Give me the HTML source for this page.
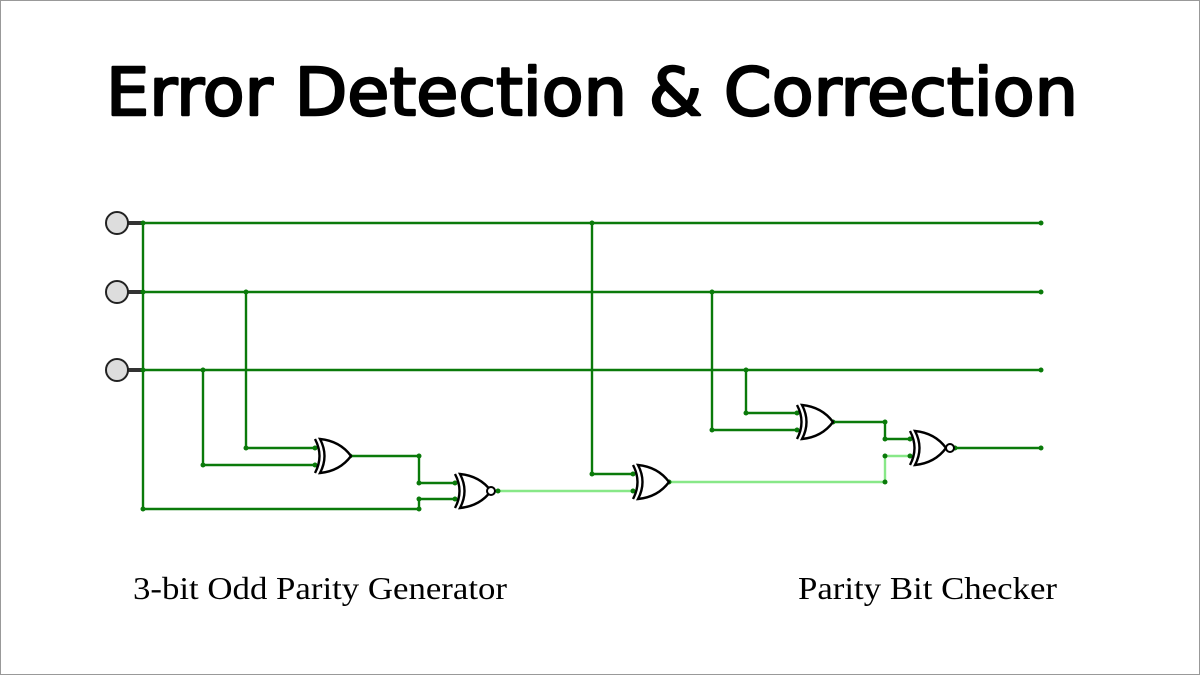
<!DOCTYPE html>
<html><head><meta charset="utf-8"><style>
html,body{margin:0;padding:0;background:#fff}
svg{display:block}
</style></head><body>
<svg width="1200" height="675" viewBox="0 0 1200 675" xmlns="http://www.w3.org/2000/svg">
<rect x="0.5" y="0.5" width="1199" height="674" fill="#fff" stroke="#999" stroke-width="1"/>
<text x="106" y="115" font-family="DejaVu Sans, Liberation Sans, sans-serif" font-size="66" textLength="972" lengthAdjust="spacingAndGlyphs" fill="#000" stroke="#000" stroke-width="2.4" stroke-linejoin="round">Error Detection &amp; Correction</text>
<text x="133" y="599" font-family="Liberation Serif, serif" font-size="32" textLength="374" lengthAdjust="spacingAndGlyphs" fill="#000">3-bit Odd Parity Generator</text>
<text x="798" y="599" font-family="Liberation Serif, serif" font-size="32" textLength="259" lengthAdjust="spacingAndGlyphs" fill="#000">Parity Bit Checker</text>

<g stroke="#333" stroke-width="4"><line x1="125" y1="223" x2="143" y2="223"/><line x1="125" y1="292" x2="143" y2="292"/><line x1="125" y1="370" x2="143" y2="370"/></g>
<g fill="#ddd" stroke="#222" stroke-width="2"><circle cx="117" cy="223" r="11"/><circle cx="117" cy="292" r="11"/><circle cx="117" cy="370" r="11"/></g>

<g stroke="#0a7a0a" stroke-width="2.4" fill="none">
<line x1="143" y1="223" x2="1041" y2="223"/>
<line x1="143" y1="292" x2="1041" y2="292"/>
<line x1="143" y1="370" x2="1041" y2="370"/>
<line x1="143" y1="223" x2="143" y2="509"/>
<polyline points="246,292 246,448 315,448"/>
<polyline points="203,370 203,465 315,465"/>
<polyline points="350,456 419,456 419,483 455,483"/>
<polyline points="143,509 419,509 419,499 455,499"/>
<polyline points="592,223 592,474 633,474"/>
<polyline points="746,370 746,413 797,413"/>
<polyline points="712,292 712,430 797,430"/>
<polyline points="833,422 885,422 885,439 910,439"/>
<line x1="955" y1="448" x2="1041" y2="448"/>
</g>
<g stroke="#88e888" stroke-width="2.4" fill="none">
<polyline points="498,491 633,491"/>
<polyline points="669,482 885,482 885,456 910,456"/>
</g>
<g fill="#0a7a0a">
<circle cx="143" cy="223" r="2.5"/><circle cx="143" cy="292" r="2.5"/><circle cx="143" cy="370" r="2.5"/><circle cx="143" cy="509" r="2.5"/>
<circle cx="1041" cy="223" r="2.5"/><circle cx="1041" cy="292" r="2.5"/><circle cx="1041" cy="370" r="2.5"/><circle cx="1041" cy="448" r="2.5"/>
<circle cx="246" cy="292" r="2.5"/><circle cx="246" cy="448" r="2.5"/><circle cx="315" cy="448" r="2.5"/>
<circle cx="203" cy="370" r="2.5"/><circle cx="203" cy="465" r="2.5"/><circle cx="315" cy="465" r="2.5"/>
<circle cx="350" cy="456" r="2.5"/><circle cx="419" cy="456" r="2.5"/><circle cx="419" cy="483" r="2.5"/><circle cx="455" cy="483" r="2.5"/>
<circle cx="419" cy="509" r="2.5"/><circle cx="419" cy="499" r="2.5"/><circle cx="455" cy="499" r="2.5"/>
<circle cx="498" cy="491" r="2.5"/><circle cx="633" cy="491" r="2.5"/>
<circle cx="592" cy="223" r="2.5"/><circle cx="592" cy="474" r="2.5"/><circle cx="633" cy="474" r="2.5"/><circle cx="669" cy="482" r="2.5"/>
<circle cx="885" cy="482" r="2.5"/><circle cx="885" cy="456" r="2.5"/><circle cx="910" cy="456" r="2.5"/>
<circle cx="746" cy="370" r="2.5"/><circle cx="746" cy="413" r="2.5"/><circle cx="797" cy="413" r="2.5"/>
<circle cx="712" cy="292" r="2.5"/><circle cx="712" cy="430" r="2.5"/><circle cx="797" cy="430" r="2.5"/>
<circle cx="833" cy="422" r="2.5"/><circle cx="885" cy="422" r="2.5"/><circle cx="885" cy="439" r="2.5"/><circle cx="910" cy="439" r="2.5"/>
<circle cx="955" cy="448" r="2.5"/>
</g>

<defs>
<g id="xor" fill="#fff" stroke="#000" stroke-width="2.4">
<path d="M0,0 Q9,17 0,34" fill="none"/>
<path d="M5,0 Q14,17 5,34 Q25,32 36,17 Q25,2 5,0 Z"/>
</g>
</defs>
<use href="#xor" x="315" y="439"/>
<use href="#xor" x="455" y="474"/>
<circle cx="491" cy="491" r="4" fill="#fff" stroke="#000" stroke-width="2"/>
<use href="#xor" x="633" y="465"/>
<use href="#xor" x="797" y="405"/>
<use href="#xor" x="910" y="431"/>
<circle cx="950" cy="448" r="4" fill="#fff" stroke="#000" stroke-width="2"/>
</svg>
</body></html>
